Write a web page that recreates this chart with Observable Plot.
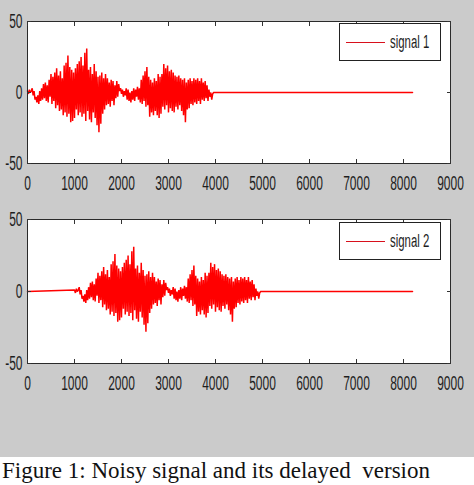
<!DOCTYPE html>
<html><head><meta charset="utf-8">
<script src="https://cdn.jsdelivr.net/npm/d3@7"></script>
<script src="https://cdn.jsdelivr.net/npm/@observablehq/plot@0.6"></script>
<style>
html,body{margin:0;padding:0;background:#fff;}
#fig{position:relative;width:474px;height:485px;overflow:hidden;}
#panel{position:absolute;left:0;top:0;width:474px;height:457px;background:#cbcbcb;}
#caption{position:absolute;left:0;top:457px;width:472px;height:28px;background:#fff;font-family:"Liberation Serif","Times New Roman",serif;font-size:23px;line-height:28px;white-space:pre;padding-left:2px;color:#111;}
</style></head><body>
<div id="fig"><div id="panel"></div><div id="caption"></div></div>
<script>
// ---- data ----
const xTicks = [0, 1000, 2000, 3000, 4000, 5000, 6000, 7000, 8000, 9000];
const yTicks = [-50, 0, 50];
const xDomain = [0, 9000];
const yDomain = [-50, 50];
const seriesNames = ["signal 1", "signal 2"];
const delays = [0, 1000];          // signal 2 is signal 1 delayed by 1000 samples
const sampleStep = 20;             // spacing of the read-off samples
const signalLength = 8192;         // both signals are zero-padded to this length
// burst values (one every 20 samples, 0..3980)
const burstValues = [
  1, -1, 2, 0, 1,      3, -2, 1, -5, -3,
  -7, -2, -8, 1, -6,   3, -5, 6, -4, 7,
  -6, 5, -7, 9, -3,    13, -8, 11, -6, 14,
  -11, 17, -9, 12, -13, 15, -12, 10, -16, 19,
  -14, 21, -17, 26, -15, 18, -21, 16, -20, 14,
  -18, 17, -12, 20, -16, 22, -14, 25, -17, 19,
  -15, 28, -20, 31, -13, 16, -19, 18, -21, 13,
  -14, 20, -18, 15, -23, 11, -28, 12, -22, 14,
  -15, 10, -12, 13, -9, 10, -8, 7, -10, 9,
  -6, 8, -9, 5, -4,    8, -3, 6, 1, 3,
  -1, 2, -3, 1, -2,    3, -5, 2, -6, 0,
  -7, 1, -5, 3, -6,    2, -3, 4, -5, 3,
  -7, 9, -8, 12, -6,   15, -10, 18, -9, 11,
  -17, 9, -14, 7, -16, 10, -13, 8, -16, 13,
  -18, 11, -15, 13, -10, 20, -12, 17, -9, 19,
  -14, 15, -11, 16, -13, 14, -14, 12, -10, 11,
  -12, 12, -9, 10, -13, 9, -16, 10, -21, 7,
  -12, 9, -11, 10, -8,  8, -9, 10, -7, 9,
  -8, 10, -6, 8, -8,   10, -5, 7, -6, 8,
  -4, 5, -6, 2, -3,    0, -5, -1, 0, 0
];
const captionText = "Figure 1: Noisy signal and its delayed  version";

function buildSeries(delay) {
  const pts = [];
  if (delay > 0) pts.push({s: 0, v: 0});
  burstValues.forEach((v, i) => pts.push({s: delay + i * sampleStep, v}));
  pts.push({s: delay + burstValues.length * sampleStep, v: 0});
  pts.push({s: signalLength, v: 0});
  return pts;
}

const tickFont = {fontSize: 20, fill: "#1e1e1e", fontFamily: "'Liberation Sans', Arial, sans-serif"};

function panel(data, mt, mb, h) {
  const svg = Plot.plot({
    width: 474, height: h,
    marginLeft: 27, marginRight: 24, marginTop: mt, marginBottom: mb,
    style: {background: "transparent", overflow: "visible"},
    x: {domain: xDomain},
    y: {domain: yDomain},
    marks: [
      Plot.frame({fill: "white", stroke: null}),
      Plot.line(data, {x: "s", y: "v", stroke: "#ff0000", strokeWidth: 1.5, strokeLinejoin: "miter"}),
      Plot.frame({stroke: "#2a2a2a", strokeWidth: 1}),
      Plot.axisX({anchor: "top", ticks: xTicks, tickSize: 4, dy: 4, tickFormat: () => "", stroke: "#333", label: null}),
      Plot.axisX({anchor: "bottom", ticks: xTicks, tickSize: 4, dy: -4, tickFormat: () => "", stroke: "#333", label: null}),
      Plot.axisY({anchor: "left", ticks: yTicks, tickSize: 4, dx: 4, tickFormat: () => "", stroke: "#333", label: null}),
      Plot.axisY({anchor: "right", ticks: yTicks, tickSize: 4, dx: -4, tickFormat: () => "", stroke: "#333", label: null}),
      Plot.axisX({anchor: "bottom", ticks: xTicks, tickSize: 0, tickPadding: 12, tickFormat: d => String(d), label: null, ...tickFont}),
      Plot.axisY({anchor: "left", ticks: yTicks, tickSize: 0, tickPadding: 5, tickFormat: d => String(d), label: null, ...tickFont})
    ]
  });
  // condensed look of the tick labels
  svg.querySelectorAll("text").forEach(t => {
    const x = parseFloat(t.getAttribute("x")) || 0;
    const tr = t.getAttribute("transform") || "";
    t.setAttribute("transform", `${tr} translate(${x},0) scale(0.6,1) translate(${-x},0)`);
  });
  return svg;
}

function legend(name, top) {
  const svg = d3.create("svg")
    .attr("width", 102).attr("height", 38)
    .style("position", "absolute").style("left", "339px").style("top", top + "px");
  svg.append("rect").attr("x", 0.5).attr("y", 0.5).attr("width", 101).attr("height", 37)
    .attr("fill", "white").attr("stroke", "#222");
  svg.append("line").attr("x1", 7).attr("x2", 46).attr("y1", 19.5).attr("y2", 19.5)
    .attr("stroke", "#d8101c").attr("stroke-width", 1);
  svg.append("text").attr("transform", "translate(51,25) scale(0.6,1)")
    .attr("font-size", 19).attr("font-family", "'Liberation Sans', Arial, sans-serif")
    .attr("fill", "#1e1e1e").text(name);
  return svg.node();
}

const fig = document.getElementById("fig");
const layout = [
  {top: 0, mt: 21, mb: 37, h: 200, legendTop: 23},
  {top: 200, mt: 19, mb: 37, h: 200, legendTop: 222}
];
layout.forEach((L, k) => {
  const svg = panel(buildSeries(delays[k]), L.mt, L.mb, L.h);
  svg.style.position = "absolute";
  svg.style.left = "0px";
  svg.style.top = L.top + "px";
  fig.appendChild(svg);
  fig.appendChild(legend(seriesNames[k], L.legendTop));
});
document.getElementById("caption").textContent = captionText;
</script>
</body></html>
